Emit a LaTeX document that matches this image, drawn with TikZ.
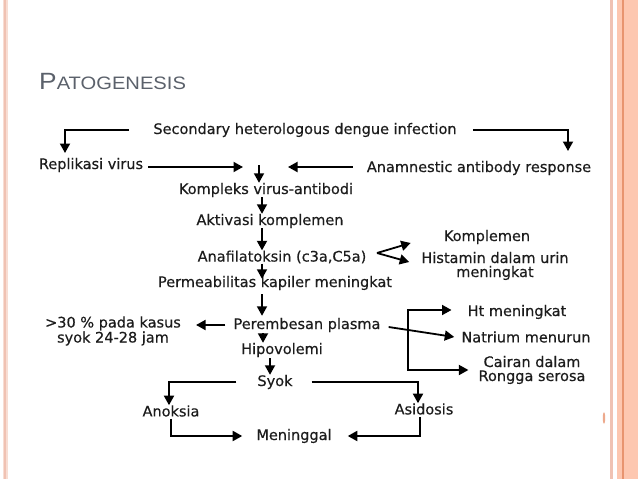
\documentclass[tikz,border=0pt]{standalone}
\usepackage{fontspec}
\setmainfont{DejaVu Sans}
\newfontfamily\diagfont{DejaVu Sans}[FakeBold=0.35]
\newfontfamily\titlefont{Liberation Sans}
\usetikzlibrary{arrows.meta}
\definecolor{txt}{HTML}{1C1C1C}
\definecolor{ttl}{HTML}{5B616B}
\definecolor{bordpink}{HTML}{F0C2B3}
\definecolor{bordlight}{HTML}{F8DDD3}
\definecolor{salmon}{HTML}{FDC7B0}
\definecolor{salmondark}{HTML}{E8946F}
\begin{document}
\begin{tikzpicture}[x=1pt,y=-1pt,
  lbl/.style={inner sep=0pt, text=txt, align=center, font=\diagfont\fontsize{14.5}{14}\selectfont},
  ln/.style={line width=1.8pt, draw=black},
  arr/.style={ln, -{Triangle[length=9.5pt,width=10pt]}},
  darr/.style={ln, {Triangle[length=9.5pt,width=10pt]}-{Triangle[length=9.5pt,width=10pt]}}]
\useasboundingbox (0,0) rectangle (638,479);
\fill[white] (0,0) rectangle (638,479);
% slide borders
\fill[bordlight] (2.5,0) rectangle (7.5,479);
\fill[bordpink] (4,0) rectangle (6,479);
\fill[bordpink] (610,0) rectangle (613,479);
\fill[salmon] (617,0) rectangle (638,479);
\fill[salmondark] (621.8,0) rectangle (623.6,479);
\fill[salmondark!80!white] (604,418) ellipse (1.2pt and 6pt);
% title
\node[anchor=base west, inner sep=0pt, text=ttl] (title) at (39,89)
  {\titlefont\scalebox{1.12}[1]{\fontsize{23.5}{24}\selectfont P\fontsize{18}{20}\selectfont ATOGENESIS}};
% nodes
\node[lbl] (sec)  at (305,130) {Secondary heterologous dengue infection};
\node[lbl] (rep)  at (91,165)  {Replikasi virus};
\node[lbl] (ana)  at (479,168) {Anamnestic antibody response};
\node[lbl] (kom)  at (266,190) {Kompleks virus-antibodi};
\node[lbl] (akt)  at (270,221) {Aktivasi komplemen};
\node[lbl] (anf)  at (282,257) {Anafilatoksin (c3a,C5a)};
\node[lbl] (per)  at (275,283) {Permeabilitas kapiler meningkat};
\node[lbl] (pls)  at (307,325) {Perembesan plasma};
\node[lbl] (pct)  at (113,331) {>30 \% pada kasus\\syok 24-28 jam};
\node[lbl] (hip)  at (282,350) {Hipovolemi};
\node[lbl] (syk)  at (275,382) {Syok};
\node[lbl] (anok) at (171,411) {Anoksia};
\node[lbl] (asid) at (424,409) {Asidosis};
\node[lbl] (men)  at (294,436) {Meninggal};
\node[lbl] (kmp)  at (487,237) {Komplemen};
\node[lbl] (his)  at (495,266) {Histamin dalam urin\\meningkat};
\node[lbl] (ht)   at (517,312) {Ht meningkat};
\node[lbl] (nat)  at (526,337) {Natrium menurun};
\node[lbl] (cai)  at (532,370) {Cairan dalam\\Rongga serosa};
% helper coordinates
\coordinate (col) at (262,0);
\coordinate (tl)  at (65,153);
\coordinate (tr)  at (568,151);
\coordinate (mL)  at (243,167);
\coordinate (mR)  at (288,167);
\coordinate (mD)  at (259,165);
\coordinate (fk)  at (377,253);
\coordinate (bk)  at (408,340);
% connectors
\draw[arr] ([xshift=-24pt]sec.west) -| (tl);
\draw[arr] ([xshift=16pt]sec.east) -| (tr);
\draw[arr] ([xshift=5pt]rep.east |- mL) -- (mL);
\draw[arr] ([xshift=-14pt]ana.west |- mR) -- (mR);
\draw[arr] (mD) -- (kom.north -| mD);
\draw[arr] (kom.south -| col) -- (akt.north -| col);
\draw[arr] (akt.south -| col) -- (anf.north -| col);
\draw[arr, shorten >=-3pt] (anf.south -| col) -- (per.north -| col);
\draw[arr, shorten <=4pt, shorten >=2pt] (per.south -| col) -- (pls.north -| col);
\draw[arr] ([xshift=-8pt]pls.west) -- ([xshift=15pt]pls.west -| pct.east);
\draw[arr, shorten <=1pt] ([xshift=-44pt]pls.south) -- ([xshift=-44pt]pls.south |- hip.north);
\draw[arr, shorten <=1pt] ([xshift=-12pt]hip.south) -- ([xshift=-5pt]syk.north);
\draw[arr] ([xshift=-21pt]syk.west) -| ([xshift=-2pt]anok.north);
\draw[arr] ([xshift=19pt]syk.east) -| ([xshift=-6pt]asid.north);
\draw[arr] ([yshift=-2pt]anok.south) |- ([xshift=-14pt]men.west);
\draw[arr] ([xshift=-4pt,yshift=-2pt]asid.south) |- ([xshift=16pt]men.east);
\draw[arr] (fk) -- ([xshift=-33pt,yshift=-6pt]kmp.west);
\draw[arr] (fk) -- ([xshift=-12pt]his.west |- 0,262);
\draw[darr] ([xshift=-16pt,yshift=2pt]ht.west) -| (bk) |- ([xshift=-10pt]cai.west);
\draw[arr] ([xshift=8pt,yshift=-2pt]pls.east) -- ([xshift=-7pt]nat.west);
\end{tikzpicture}
\end{document}
